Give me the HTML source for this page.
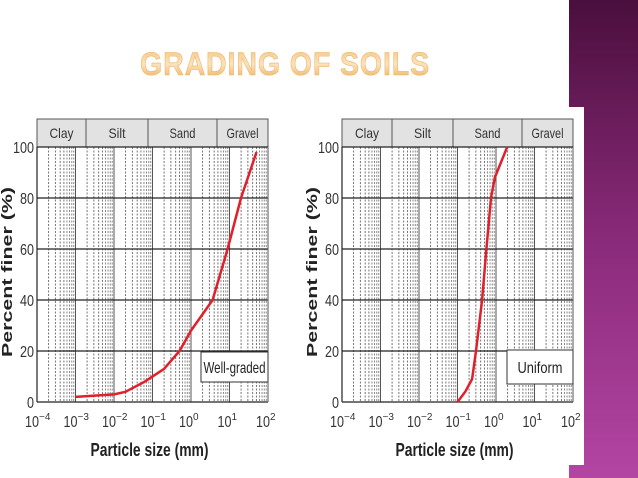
<!DOCTYPE html>
<html><head><meta charset="utf-8"><style>
body{margin:0;width:638px;height:478px;overflow:hidden;background:#fff;font-family:"Liberation Sans",sans-serif}
#bg{position:absolute;left:0;top:0}
</style></head><body>
<svg id="bg" width="638" height="478">
<defs>
<linearGradient id="pur" x1="0" y1="0" x2="0" y2="1"><stop offset="0" stop-color="#4a0f3c"/><stop offset="0.5" stop-color="#8a2a7a"/><stop offset="1" stop-color="#b345a3"/></linearGradient>
<linearGradient id="ttl" x1="0" y1="0" x2="0" y2="1"><stop offset="0" stop-color="#f6c27a"/><stop offset="0.5" stop-color="#fbe3bd"/><stop offset="1" stop-color="#f0a94e"/></linearGradient>
</defs>
<rect x="569" y="0" width="69" height="478" fill="url(#pur)"/>
<rect x="0" y="107" width="584" height="358" fill="#fff"/>
<text x="140" y="75" font-size="32" font-weight="bold" fill="url(#ttl)" stroke="#eab36a" stroke-width="0.6" letter-spacing="1" textLength="290" lengthAdjust="spacingAndGlyphs">GRADING OF SOILS</text>
<g id="charts"></g>
</svg>
<script>
const tickExps=[-4,-3,-2,-1,0,1,2];
const yTicks=[0,20,40,60,80,100];
const zones=["Clay","Silt","Sand","Gravel"];
const wellLog=[-3,-2.5,-2,-1.7,-1.2,-0.7,-0.3,0,0.56,0.95,1.3,1.7];
const wellPct=[2,2.5,3,4,8,13,20,28,40,60,80,98];
const uniLog=[-1.0,-0.8,-0.62,-0.52,-0.36,-0.25,-0.13,-0.03,0.29];
const uniPct=[0,4,9,20,40,60,80,88,100];
const zoneW={Clay:24,Silt:17,Sand:26,Gravel:32};
const NS="http://www.w3.org/2000/svg";
const root=document.getElementById('charts');
function mk(t,a,p){const e=document.createElementNS(NS,t);for(const k in a)e.setAttribute(k,a[k]);(p||root).appendChild(e);return e;}
function chart(L,R,dividers,xs,ys,label,box,lw,name){
  const top=147,bot=402,hTop=119;
  const X=v=>L+(v+4)/6*(R-L);
  const Y=v=>bot-v/100*(bot-top);
  const g=mk('g',{});
  
  
  const hd=mk('rect',{x:L,y:hTop,width:R-L,height:top-hTop,fill:'#e2e2e2',stroke:'#555','stroke-width':1},g);
  
  const edges=[L,...dividers,R];
  zones.forEach((z,i)=>{
    if(i>0)mk('line',{x1:edges[i],x2:edges[i],y1:hTop,y2:top,stroke:'#555'},g);
    const t=mk('text',{x:(edges[i]+edges[i+1])/2,y:hTop+19,'font-size':14,'text-anchor':'middle',fill:'#333',textLength:zoneW[z],lengthAdjust:'spacingAndGlyphs'},g);
    t.textContent=z;
    
  });
  for(let d=-4;d<2;d++){
    for(let m=2;m<10;m++){
      const x=X(d+Math.log10(m));
      mk('line',{x1:x,x2:x,y1:top,y2:bot,stroke:m>=6?'#888':'#666','stroke-width':m>=6?1:0.9,'stroke-dasharray':'2,1.5'},g);
    }
  }
  tickExps.forEach(e=>{const x=X(e);mk('line',{x1:x,x2:x,y1:top,y2:bot,stroke:'#555','stroke-width':1},g);});
  yTicks.forEach(v=>{
    mk('line',{x1:L,x2:R,y1:Y(v),y2:Y(v),stroke:'#222','stroke-width':1.2},g);
    const s=String(v);
    const t=mk('text',{x:L-3,y:Y(v)+6,'font-size':16,'text-anchor':'end',fill:'#333',textLength:s.length*7,lengthAdjust:'spacingAndGlyphs'},g);
    t.textContent=s;
  });
  mk('line',{x1:L,x2:L,y1:top,y2:bot,stroke:'#222','stroke-width':1.2},g);
  mk('line',{x1:R,x2:R,y1:top,y2:bot,stroke:'#555','stroke-width':1},g);
  tickExps.forEach(e=>{
    const t=mk('text',{x:X(e)-12,y:bot+25,'font-size':16,fill:'#333'},g);
    const b=mk('tspan',{textLength:14,lengthAdjust:'spacingAndGlyphs'},t);b.textContent='10';
    const s=mk('tspan',{dy:-7,'font-size':10},t);s.textContent=e<0?'−'+(-e):e;
    
  });
  const b=mk('rect',{x:box[0],y:box[1],width:R-box[0],height:box[2],fill:'#fff',stroke:'#333','stroke-width':1},g);
  
  const bt=mk('text',{x:(box[0]+R)/2,y:box[1]+box[2]/2+6,'font-size':16,'text-anchor':'middle',fill:'#222',textLength:lw,lengthAdjust:'spacingAndGlyphs'},g);
  bt.textContent=label;
  const pts=xs.map((v,i)=>X(v).toFixed(1)+','+Y(ys[i]).toFixed(1)).join(' ');
  const c=mk('polyline',{points:pts,fill:'none',stroke:'#e0202a','stroke-width':2.5,'stroke-linejoin':'round'},g);
  
  const xt=mk('text',{x:(L+R)/2-3,y:456,'font-size':18,'font-weight':'bold','text-anchor':'middle',fill:'#222',textLength:118,lengthAdjust:'spacingAndGlyphs'},g);
  xt.textContent='Particle size (mm)';
  const yt=mk('text',{x:0,y:0,'font-size':15,'font-weight':'bold','text-anchor':'middle',fill:'#222',transform:`translate(${L-25},272) rotate(-90)`,textLength:170,lengthAdjust:'spacingAndGlyphs'},g);
  yt.textContent='Percent finer (%)';
}
chart(37,268,[86,148,217],wellLog,wellPct,'Well-graded',[201,352,30],62,'well-graded-chart');
chart(342,573,[392,453,522],uniLog,uniPct,'Uniform',[507,350,34],45,'uniform-chart');
</script>
</body></html>
